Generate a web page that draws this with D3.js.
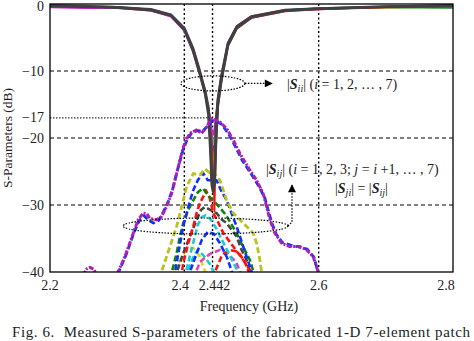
<!DOCTYPE html>
<html><head><meta charset="utf-8">
<script src="https://cdn.jsdelivr.net/npm/d3@7"></script>
<style>
html,body{margin:0;padding:0;background:#fff;}
svg{display:block;}
svg text{font-family:"Liberation Serif","Times New Roman",serif;}
</style></head>
<body><svg id="c" width="474" height="341"></svg>
<script>
// ---------- axis / tick data ----------
const xDomain = [2.2, 2.8];
const yDomain = [-40, 0];
const xTicks = [2.2, 2.4, 2.442, 2.6, 2.8];
const xTickLabels = ["2.2", "2.4", "2.442", "2.6", "2.8"];
const yTicks = [0, -10, -17, -20, -30, -40];
const yTickLabels = ["0", "\u221210", "\u221217", "\u221220", "\u221230", "\u221240"];
const dashedY = [-10, -20, -30];
const dottedX = [2.4, 2.442, 2.6];
const dottedYPartial = -17;

// ---------- |Sii| curves (shared frequency grid, GHz) ----------
const siiFreq = [2.2, 2.25, 2.3, 2.35, 2.38, 2.4, 2.413, 2.423, 2.431, 2.436, 2.439, 2.441, 2.443, 2.445, 2.447, 2.45, 2.455, 2.465, 2.478, 2.5, 2.55, 2.6, 2.7, 2.8];
const siiMagenta = [-0.5,-0.6,-0.6,-1,-1.9,-4,-7.2,-10.6,-13.6,-16,-17.8,-19,-19.5,-18.5,-16.8,-14,-10.6,-5.7,-3.3,-1.8,-0.9,-0.8,-0.4,-0.3];
const siiRed     = [-0.3,-0.4,-0.5,-0.9,-1.7,-3.7,-6.8,-10.2,-13.2,-15.6,-17.5,-20,-26,-31,-22,-15.5,-11.8,-6.3,-3.7,-2.1,-1.1,-0.8,-0.5,-0.4];
const siiYellow  = [-0.4,-0.5,-0.6,-1,-1.8,-3.9,-7,-10.4,-13.4,-16,-18,-22,-25,-22,-17.5,-14.6,-11.2,-6,-3.5,-2,-1,-0.7,-0.5,-0.3];
const siiCyan    = [-0.3,-0.5,-0.5,-0.9,-1.7,-3.8,-6.9,-10.2,-13.2,-15.6,-17.5,-19,-21,-20.5,-17.8,-14.8,-11.4,-6.1,-3.5,-2,-1,-0.7,-0.4,-0.5];
const siiBlue    = [-0.2,-0.4,-0.5,-0.8,-1.6,-3.7,-6.8,-10.1,-13.1,-15.6,-17.6,-20,-22,-20,-17.2,-14.4,-11,-5.9,-3.4,-1.9,-0.9,-0.6,-0.4,-0.2];
const siiGreen   = [-0.3,-0.4,-0.5,-0.9,-1.7,-3.8,-6.9,-10.3,-13.3,-15.8,-18,-21,-24,-21,-17.2,-14.3,-11,-5.9,-3.4,-1.9,-0.9,-0.7,-0.5,-0.6];
const siiGray2   = [-0.2,-0.3,-0.5,-0.8,-1.6,-3.6,-6.6,-10,-13,-15.5,-20,-26,-27,-27,-21,-15,-11.5,-6.2,-3.6,-2,-1,-0.7,-0.4,-0.2];
const siiGray1   = [-0.3,-0.4,-0.5,-0.9,-1.7,-3.8,-6.9,-10.3,-13.3,-16.5,-22,-27,-28,-26,-18.5,-14.3,-11,-5.9,-3.4,-1.9,-0.9,-0.7,-0.4,-0.3];

// ---------- |Sij| curves ----------
const sijMagentaF = [2.249,2.255,2.2595,2.2655,2.270,2.28,2.292,2.3016,2.3116,2.324,2.3314,2.3388,2.344,2.3488,2.3588,2.3662,2.3737,2.381,2.3885,2.396,2.401,2.4083,2.4183,2.4257,2.4332,2.4406,2.453,2.463,2.4728,2.4827,2.4976,2.5076,2.5174,2.5225,2.5274,2.5348,2.5448,2.5571,2.572,2.582,2.5918,2.5993,2.605];
const sijMagentaDb = [-40.5,-39.5,-39.3,-39.6,-40.5,-41.5,-41.5,-39.95,-37.7,-34.2,-32.2,-31.2,-31.3,-32.0,-32.2,-31.7,-30.2,-28.3,-25.3,-22.3,-20.6,-19.3,-18.8,-19.3,-18.3,-17.1,-17.6,-18.6,-20.3,-22.3,-24.8,-26.3,-28.3,-30.3,-32.2,-34.2,-35.7,-36.2,-36.2,-36.7,-37.7,-40.0,-41.5];
const sijBlueF = [2.295,2.303,2.313,2.3255,2.333,2.34,2.347,2.354,2.362,2.369,2.376,2.383,2.3905,2.398,2.404,2.411,2.42,2.427,2.435,2.442,2.448,2.456,2.466,2.476,2.486,2.501,2.511,2.52,2.525,2.53,2.537,2.546,2.558,2.572,2.583,2.593,2.599,2.605];
const sijBlueDb = [-41.5,-39.8,-37.5,-34,-32.3,-31.6,-32.3,-32.7,-32.3,-31,-29.5,-27.5,-24.5,-21.8,-20.3,-19.2,-18.9,-19,-18.2,-17.4,-17.5,-18,-19.4,-21.3,-23.3,-25.6,-27.2,-29,-30.8,-32.6,-34.4,-35.6,-36,-36.3,-36.6,-37.8,-40,-41.5];
const sijOliveF = [2.362,2.366,2.3686,2.3786,2.3885,2.3984,2.4034,2.4083,2.4133,2.4232,2.4307,2.438,2.4426,2.453,2.463,2.4728,2.4827,2.4927,2.5025,2.5076,2.5125,2.515,2.518];
const sijOliveDb = [-41,-40,-39.2,-36.2,-33.2,-29.3,-27.3,-26.3,-25.3,-25.5,-24.6,-25.2,-25.0,-26.3,-29.3,-31.2,-32.2,-33.2,-34.2,-35.7,-38.2,-40,-41];
const sijBlue2F = [2.383,2.386,2.391,2.3984,2.4058,2.4133,2.420,2.4277,2.435,2.448,2.4545,2.463,2.4778,2.4877,2.4976,2.5006,2.503];
const sijBlue2Db = [-41,-40.1,-37.2,-33.2,-30.3,-27.8,-26.3,-25.2,-26.3,-26.3,-27.8,-29.3,-33.2,-36.2,-39.2,-40.1,-41];
const sijGreenF = [2.378,2.3815,2.3885,2.3935,2.3984,2.4058,2.4133,2.420,2.4277,2.435,2.4426,2.453,2.462,2.4678,2.4778,2.4877,2.4976,2.503,2.506];
const sijGreenDb = [-41,-40,-37.2,-34.7,-32.7,-30.7,-29.3,-28.1,-27.5,-28.5,-29.3,-30.4,-31.5,-32.5,-34.2,-36.3,-38.2,-40,-41];
const sijRedF = [2.393,2.3964,2.3984,2.4058,2.4133,2.4183,2.4232,2.428,2.432,2.438,2.443,2.45,2.458,2.4728,2.4877,2.4976,2.5,2.503];
const sijRedDb = [-41,-40,-38.7,-35.7,-33.2,-31.2,-29.7,-28.8,-27.8,-29.0,-31.2,-32.5,-34.2,-36.2,-38.2,-39.7,-40.3,-41];
const sijGrayF = [2.386,2.389,2.3984,2.4083,2.4183,2.425,2.4307,2.438,2.448,2.456,2.463,2.4778,2.4852,2.4927,2.4976,2.501];
const sijGrayDb = [-41,-40,-37.2,-34.7,-32.2,-30.7,-30.3,-30.7,-31.2,-32.2,-32.7,-34.7,-36.7,-38.2,-40,-41];
const sijCyanF = [2.399,2.4024,2.4083,2.4143,2.420,2.426,2.432,2.4396,2.447,2.456,2.465,2.474,2.48,2.483];
const sijCyanDb = [-41,-40,-37.6,-35.2,-33,-31.8,-31.5,-32.2,-33.4,-35.2,-37,-38.8,-40,-41];
const sijYellowF = [2.381,2.3845,2.3935,2.4034,2.4133,2.4232,2.428,2.432,2.434];
const sijYellowDb = [-41,-40,-38.2,-36.7,-36.4,-37.7,-39.2,-40.1,-41];
const sijRed2F = [2.442,2.4455,2.456,2.468,2.48,2.49,2.496,2.499];
const sijRed2Db = [-41,-40,-37.5,-36.7,-37,-38.5,-40,-41];
const sijMagenta2F = [2.414,2.4173,2.4232,2.438,2.453,2.465,2.477,2.483,2.486];
const sijMagenta2Db = [-41,-40,-38.5,-37.3,-36.7,-37.3,-38.5,-40,-41];
const sijCyan2F = [2.402,2.405,2.4128,2.420,2.429,2.438,2.444,2.447];
const sijCyan2Db = [-41,-40,-37.9,-36.7,-37.6,-38.8,-40,-41];
const sijBlue3F = [2.405,2.4083,2.4173,2.426,2.435,2.444,2.453,2.4634,2.471,2.474];
const sijBlue3Db = [-41,-40,-37.5,-35.2,-34,-34.3,-35.7,-37.8,-40,-41];

// ---------- layout ----------
const W = 474, H = 341;
const m = {left: 50, top: 4, right: 21, bottom: 69};
const pw = W - m.left - m.right, ph = H - m.top - m.bottom;
const svg = d3.select("#c");
const FONT = "Liberation Serif, Times New Roman, serif";
const x = d3.scaleLinear().domain(xDomain).range([m.left, m.left + pw]);
const y = d3.scaleLinear().domain(yDomain).range([m.top + ph, m.top]);

const defs = svg.append("defs");
defs.append("clipPath").attr("id", "clip")
  .append("rect").attr("x", m.left).attr("y", m.top).attr("width", pw).attr("height", ph);
defs.append("marker").attr("id", "arr").attr("viewBox", "0 0 10 10").attr("refX", 9).attr("refY", 5)
  .attr("markerWidth", 9).attr("markerHeight", 8).attr("markerUnits", "userSpaceOnUse").attr("orient", "auto")
  .append("path").attr("d", "M0,0 L10,5 L0,10 Z").attr("fill", "#000");

// grid
const grid = svg.append("g");
grid.selectAll(".hd").data(dashedY).enter().append("line")
  .attr("x1", x(xDomain[0])).attr("x2", x(xDomain[1])).attr("y1", d => y(d)).attr("y2", d => y(d))
  .attr("stroke", "#000").attr("stroke-width", 1.2).attr("stroke-dasharray", "4,3");
grid.append("line").attr("x1", x(xDomain[0])).attr("x2", x(2.442))
  .attr("y1", y(dottedYPartial)).attr("y2", y(dottedYPartial))
  .attr("stroke", "#000").attr("stroke-width", 1).attr("stroke-dasharray", "1.5,1.5");
grid.selectAll(".vd").data(dottedX).enter().append("line")
  .attr("x1", d => x(d)).attr("x2", d => x(d)).attr("y1", y(0)).attr("y2", y(-40))
  .attr("stroke", "#000").attr("stroke-width", 1.4).attr("stroke-dasharray", "2,2.5");

const line = d3.line().x(d => x(d[0])).y(d => y(d[1]));
const plot = svg.append("g").attr("clip-path", "url(#clip)");

function sij(F, D, color, w, dash) {
  plot.append("path").attr("d", line(F.map((f, i) => [f, D[i]])))
    .attr("fill", "none").attr("stroke", color).attr("stroke-width", w)
    .attr("stroke-dasharray", dash).attr("stroke-linejoin", "round");
}
function sii(D, color, w) {
  plot.append("path").attr("d", line(siiFreq.map((f, i) => [f, D[i]])))
    .attr("fill", "none").attr("stroke", color).attr("stroke-width", w).attr("stroke-linejoin", "round");
}

// inner Sij curves
sij(sijYellowF, sijYellowDb, "#e0d820", 2.6, "6,3");
sij(sijCyan2F, sijCyan2Db, "#20c8d0", 2.6, "6,3");
sij(sijMagenta2F, sijMagenta2Db, "#e040c0", 2.6, "6,3");
sij(sijRed2F, sijRed2Db, "#ff1010", 2.6, "6,3");
sij(sijBlue3F, sijBlue3Db, "#1030ff", 2.6, "6,3");
sij(sijCyanF, sijCyanDb, "#20c8d0", 2.6, "6,3");
sij(sijGrayF, sijGrayDb, "#444444", 2.6, "6,3");
sij(sijRedF, sijRedDb, "#ff1010", 2.6, "6,3");
sij(sijGreenF, sijGreenDb, "#108010", 2.6, "6,3");
sij(sijBlue2F, sijBlue2Db, "#1030ff", 2.6, "6,3");
sij(sijOliveF, sijOliveDb, "#b8c41c", 2.8, "6,3");

// Sii curves
sii(siiGreen, "#108010", 1.6);
sii(siiBlue, "#1030ff", 1.6);
sii(siiCyan, "#20c8d0", 1.6);
sii(siiYellow, "#e0d820", 1.8);
sii(siiRed, "#ff1010", 1.6);
sii(siiMagenta, "#d020d0", 1.8);
sii(siiGray2, "#484848", 2.6);
sii(siiGray1, "#404040", 2.8);

// outer Sij curves
sij(sijBlueF, sijBlueDb, "#1030ff", 2.8, "6,3");
sij(sijMagentaF, sijMagentaDb, "#b020b0", 3, "5,1.5,2,1.5");

// frame
svg.append("rect").attr("x", m.left).attr("y", m.top).attr("width", pw).attr("height", ph)
  .attr("fill", "none").attr("stroke", "#000").attr("stroke-width", 1.3);

// ticks
const tickFont = 14;
svg.append("g").selectAll("text").data(yTicks).enter().append("text")
  .attr("x", m.left - 6).attr("y", d => Math.max(y(d) + 4.5, 10.5)).attr("text-anchor", "end")
  .attr("font-family", FONT).attr("font-size", tickFont).attr("fill", "#222").text((d, i) => yTickLabels[i]);
const xOff = [0, -4, 2, 0, -7];
svg.append("g").selectAll("text").data(xTicks).enter().append("text")
  .attr("x", (d, i) => x(d) + xOff[i]).attr("y", 290).attr("text-anchor", "middle")
  .attr("font-family", FONT).attr("font-size", tickFont).attr("fill", "#222").text((d, i) => xTickLabels[i]);

// axis titles
svg.append("text").attr("transform", `translate(12,${m.top + ph / 2}) rotate(-90)`)
  .attr("text-anchor", "middle").attr("font-family", FONT).attr("font-size", 13.5).attr("fill", "#222").text("S-Parameters (dB)");
svg.append("text").attr("x", 249).attr("y", 311).attr("text-anchor", "middle")
  .attr("font-family", FONT).attr("font-size", 14).attr("fill", "#222").text("Frequency (GHz)");

// caption
svg.append("text").attr("x", 12).attr("y", 337).attr("font-family", FONT).attr("font-size", 15).attr("fill", "#222")
  .attr("textLength", 458).attr("lengthAdjust", "spacing")
  .text("Fig. 6.\u00a0\u00a0Measured S-parameters of the fabricated 1-D 7-element patch");

// annotations
const ann = svg.append("g").attr("fill", "none").attr("stroke", "#000");
ann.append("ellipse").attr("cx", x(2.4425)).attr("cy", y(-11.85)).attr("rx", 32).attr("ry", 7.5)
  .attr("stroke-width", 1.2).attr("stroke-dasharray", "1.5,1.5");
ann.append("line").attr("x1", x(2.4425) + 32).attr("y1", y(-11.85)).attr("x2", 272).attr("y2", y(-11.85))
  .attr("stroke-width", 1.2).attr("stroke-dasharray", "1.5,1.5").attr("marker-end", "url(#arr)");
ann.append("ellipse").attr("cx", 205.5).attr("cy", 226).attr("rx", 82.5).attr("ry", 8)
  .attr("stroke-width", 1.2).attr("stroke-dasharray", "1.5,1.5");
ann.append("polyline").attr("points", "288,226 292,222 292,185")
  .attr("stroke-width", 1.2).attr("stroke-dasharray", "1.5,1.5").attr("marker-end", "url(#arr)");

function richText(xp, yp, parts) {
  const t = svg.append("text").attr("x", xp).attr("y", yp).attr("font-family", FONT)
    .attr("font-size", 14).attr("fill", "#222");
  parts.forEach(p => {
    const s = t.append("tspan").text(p.t);
    if (p.b) s.attr("font-weight", "bold");
    if (p.i) s.attr("font-style", "italic");
    if (p.sub) s.attr("font-size", 10).attr("dy", 3).attr("font-style", "italic");
    if (p.up) s.attr("dy", -3);
  });
  return t;
}
richText(287, 89, [{t: "|"}, {t: "S", b: 1, i: 1}, {t: "ii", sub: 1}, {t: "| (", up: 1}, {t: "i", i: 1}, {t: " = 1, 2, \u2026 , 7)"}]);
richText(266, 174, [{t: "|"}, {t: "S", b: 1, i: 1}, {t: "ij", sub: 1}, {t: "| (", up: 1}, {t: "i", i: 1},
  {t: " = 1, 2, 3; "}, {t: "j", i: 1}, {t: " = "}, {t: "i", i: 1}, {t: " +1, \u2026 , 7)"}]);
richText(335, 193, [{t: "|"}, {t: "S", b: 1, i: 1}, {t: "ji", sub: 1}, {t: "| = |", up: 1}, {t: "S", b: 1, i: 1},
  {t: "ij", sub: 1}, {t: "|", up: 1}]);
</script></body></html>
